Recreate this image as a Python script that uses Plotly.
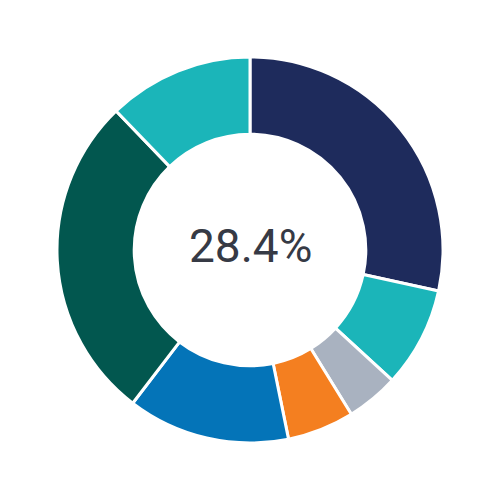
import plotly.graph_objects as go

labels = ["A", "B", "C", "D", "E", "F", "G"]
values = [28.4, 8.4, 4.4, 5.6, 13.6, 27.4, 12.2]
colors = ["#1e2b5c", "#1bb5b9", "#a9b2c0", "#f47f20", "#0474b8", "#02574f", "#1bb5b9"]
center_text = "28.4%"

fig = go.Figure(go.Pie(
    labels=labels,
    values=values,
    hole=0.6,
    sort=False,
    direction="clockwise",
    rotation=0,
    marker=dict(colors=colors, line=dict(color="white", width=3)),
    textinfo="none",
    hoverinfo="label+percent",
))

# page body adds ~8px offset, so margins are shifted
fig.update_layout(
    width=500, height=500,
    margin=dict(l=49, r=65, t=49, b=65),
    showlegend=False,
    paper_bgcolor="white",
    annotations=[dict(text=center_text, x=0.5, y=0.51, xref="paper", yref="paper",
                      showarrow=False, font=dict(family="Roboto", size=46, color="#363a45"))],
)

fig.write_html("out.html")
